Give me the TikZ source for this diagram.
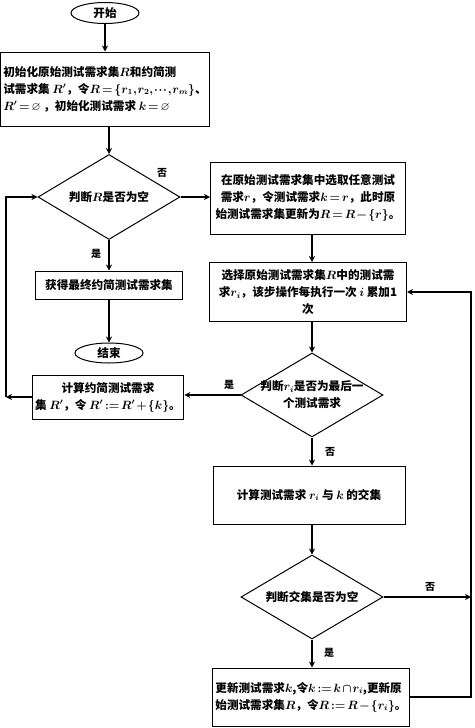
\documentclass[tikz,border=0pt]{standalone}
\usepackage{amssymb}
\usepackage{fontspec}
\newfontfamily\cjk{Noto Sans CJK SC}
\usetikzlibrary{calc,arrows.meta,shapes.geometric}
\tikzset{fbox/.style={
  draw=black,
  line width=1,
  rectangle,
  inner xsep=3pt,
  inner ysep=2pt,
  align=center}}
\tikzset{fdiam/.style={
  draw=black,
  line width=1,
  diamond,
  inner sep=0pt,
  minimum width=142,
  minimum height=84}}
\tikzset{ftext/.style={
  inner sep=0pt,
  align=center}}
\tikzset{fend/.style={
  draw=black,
  line width=1,
  ellipse,
  inner sep=0pt,
  minimum width=68,
  minimum height=21}}
\tikzset{farr/.style={
  -{Stealth[length=6pt,width=6pt]},
  line width=1.6}}
\tikzset{flab/.style={
  font=\cjk\bfseries\fontsize{10}{12}\selectfont}}
\newcommand\tightmath{\thinmuskip=1mu\medmuskip=1.5mu\thickmuskip=2.5mu}

\begin{document}
\begin{tikzpicture}[
  x=1pt,y=-1pt,
  font=\cjk\bfseries\boldmath\fontsize{11.6}{17}\selectfont\tightmath
]
  \useasboundingbox (0,0) rectangle (474,728);

  %%%% Left column %%%%
  \node[fend] (start) at (105,13) {开始};
  \node[fbox,align=left,minimum width=194,minimum height=74] (init) at (105,89)
    {初始化原始测试需求集$R$和约简测\\
     试需求集 $R'$，令$R=\{r_1,r_2,\cdots,r_m\}$、\\
     $R'=\varnothing$ ，初始化测试需求 $k=\varnothing$};
  \node[fdiam,minimum height=85] (judgeR) at (109,197) {};
  \node[ftext] (judgeRText) at (judgeR) {判断$R$是否为空};
  \node[fbox,minimum width=147,minimum height=28] (got) at (109,285) {获得最终约简测试需求集};
  \node[fend,minimum height=20] (stop) at (109,353) {结束};
  \node[fbox,minimum width=137,minimum height=44] (calcR) at (108,397)
    {计算约简测试需求\\集 $R'$，令 $R':=R'+\{k\}$。};

  %%%% Right column %%%%
  \node[fbox,minimum width=195,minimum height=72] (pick) at (308,198)
    {在原始测试需求集中选取任意测试\\
     需求$r$，令测试需求$k=r$，此时原\\
     始测试需求集更新为$R=R-\{r\}$。};
  \node[fbox,minimum width=197,minimum height=59] (select) at (308,292)
    {选择原始测试需求集$R$中的测试需\\
     求$r_i$，该步操作每执行一次 $i$ 累加1\\
     次};
  \node[fdiam] (judgeLast) at (312,395) {};
  \node[ftext] (judgeLastText) at (judgeLast) {判断$r_i$是否为最后一\\个测试需求};
  \node[fbox,minimum width=192,minimum height=58] (inter) at (309,495)
    {计算测试需求 $r_i$ 与 $k$ 的交集};
  \node[fdiam] (judgeEmpty) at (312,597) {};
  \node[ftext] (judgeEmptyText) at (judgeEmpty) {判断交集是否为空};
  \node[fbox,align=left,minimum width=195,minimum height=58] (update) at (311,697)
    {更新测试需求$k$,令$k:=k\cap r_i$,更新原\\
     始测试需求集$R$，令$R:=R-\{r_i\}$。};

  %% Loop coordinates
  \coordinate (leftLoop) at (6,397);
  \coordinate (rightLoop) at (471,597);

  %% Connectors
  \draw[farr] (start.south) -- (start.south |- init.north);
  \draw[farr] (init.south -| judgeR) -- (judgeR.north);
  \draw[farr] (judgeR.east) -- (pick.west |- judgeR.east);
  \draw[farr] (judgeR.south) -- (got.north -| judgeR);
  \draw[farr] (got.south -| stop) -- (stop.north);
  \draw[farr] (pick.south -| judgeLast) -- (select.north -| judgeLast);
  \draw[farr] (select.south -| judgeLast) -- (judgeLast.north);
  \draw[farr] (judgeLast.west) -- (calcR.east |- judgeLast.west);
  \draw[farr] (calcR.west) -- (leftLoop);
  \draw[farr] (leftLoop) |- (judgeR.west);
  \draw[farr] (judgeLast.south) -- (inter.north -| judgeLast);
  \draw[farr] (inter.south -| judgeEmpty) -- (judgeEmpty.north);
  \draw[farr] (judgeEmpty.east) -- (rightLoop);
  \draw[farr] (judgeEmpty.south) -- (update.north -| judgeEmpty);
  \draw[farr] (update.east) -| (rightLoop) |- (select.east);

  %% Branch labels
  \node[flab] (no1) at (162,173) {否};
  \node[flab] (yes1) at (96,254) {是};
  \node[flab] (yes2) at (229,385) {是};
  \node[flab] (no2) at (330,452) {否};
  \node[flab] (no3) at (430,587) {否};
  \node[flab] (yes3) at (329,653) {是};

\end{tikzpicture}
\end{document}
